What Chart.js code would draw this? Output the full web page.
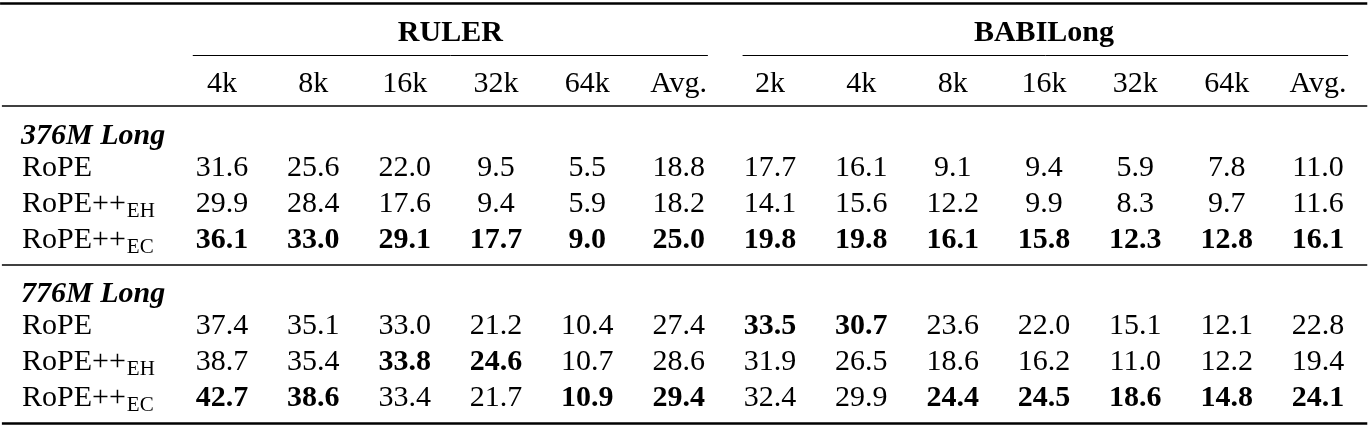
<!DOCTYPE html>
<html>
<head>
<meta charset="utf-8">
<script src="https://cdn.jsdelivr.net/npm/chart.js@4/dist/chart.umd.min.js"></script>
<style>
  html, body { margin: 0; padding: 0; background: #fff; }
  #table-chart { display: block; }
</style>
</head>
<body>
<canvas id="table-chart" width="1370" height="429"></canvas>
<script>
'use strict';

// column groups and headers
var groups = ['RULER', 'BABILong'];
var rulerCols = ['4k', '8k', '16k', '32k', '64k', 'Avg.'];
var babiCols = ['2k', '4k', '8k', '16k', '32k', '64k', 'Avg.'];

// row groups and methods
var sections = ['376M Long', '776M Long'];
var methods = ['RoPE', 'RoPE++', 'RoPE++'];
var methodSubs = ['', 'EH', 'EC'];

// scores: RULER (6 cols) then BABILong (7 cols)
var rope376 = [31.6, 25.6, 22.0, 9.5, 5.5, 18.8, 17.7, 16.1, 9.1, 9.4, 5.9, 7.8, 11.0];
var ropeEH376 = [29.9, 28.4, 17.6, 9.4, 5.9, 18.2, 14.1, 15.6, 12.2, 9.9, 8.3, 9.7, 11.6];
var ropeEC376 = [36.1, 33.0, 29.1, 17.7, 9.0, 25.0, 19.8, 19.8, 16.1, 15.8, 12.3, 12.8, 16.1];
var rope776 = [37.4, 35.1, 33.0, 21.2, 10.4, 27.4, 33.5, 30.7, 23.6, 22.0, 15.1, 12.1, 22.8];
var ropeEH776 = [38.7, 35.4, 33.8, 24.6, 10.7, 28.6, 31.9, 26.5, 18.6, 16.2, 11.0, 12.2, 19.4];
var ropeEC776 = [42.7, 38.6, 33.4, 21.7, 10.9, 29.4, 32.4, 29.9, 24.4, 24.5, 18.6, 14.8, 24.1];

var sectionRows = [[rope376, ropeEH376, ropeEC376], [rope776, ropeEH776, ropeEC776]];

// layout (x in column units, y in row units of 36px)
var COL_W = 91.33;
var X_MIN = -222 / COL_W;
var X_MAX = (1370 - 222) / COL_W;
var Y_MAX = 429 / 36;
var LABEL_X = -2.19;
var RULE_L = -2.41, RULE_R = 12.54;
var TOP_RULE = 0.083, GROUP_Y = 0.861, CMID_Y = 1.528, HEAD_Y = 2.25, MID_RULE = 2.944;
var FONT = '"Liberation Serif", "Times New Roman", serif';

var allCols = rulerCols.concat(babiCols);

// where each section sits
var layout = [];
var ruleY = MID_RULE;
sections.forEach(function (name, s) {
  var rows = [];
  for (var r = 0; r < methods.length; r++) rows.push(ruleY + 1.64 + r);
  layout.push({ rule: ruleY, header: ruleY + 0.76, rows: rows });
  ruleY = rows[rows.length - 1] + 0.765;
});
var BOTTOM_RULE = ruleY;

// one dataset per table row, each point is a cell
var datasets = [];
sectionRows.forEach(function (rows, s) {
  // best per column in this section gets bold
  var best = allCols.map(function (c, i) {
    return Math.max.apply(null, rows.map(function (row) { return row[i]; }));
  });
  rows.forEach(function (row, r) {
    datasets.push({
      label: sections[s] + ' ' + methods[r] + methodSubs[r],
      data: row.map(function (v, i) {
        return { x: i, y: layout[s].rows[r], v: v, bold: v === best[i] };
      }),
      pointRadius: 0,
      method: r,
      section: s
    });
  });
});

var tablePlugin = {
  id: 'tableText',
  afterDatasetsDraw: function (chart) {
    var ctx = chart.ctx;
    var xs = chart.scales.x, ys = chart.scales.y;
    var px = function (v) { return xs.getPixelForValue(v); };
    var py = function (v) { return ys.getPixelForValue(v); };

    ctx.save();
    ctx.fillStyle = '#000';
    ctx.strokeStyle = '#000';

    function rule(y, x0, x1, w) {
      var yy = Math.round(py(y)) + (Math.round(w) % 2 ? 0.5 : 0);
      ctx.lineWidth = w;
      ctx.beginPath();
      ctx.moveTo(px(x0), yy);
      ctx.lineTo(px(x1), yy);
      ctx.stroke();
    }

    function text(str, x, y, bold, italic, align) {
      ctx.font = (italic ? 'italic ' : '') + (bold ? 'bold ' : '') + '30px ' + FONT;
      ctx.textAlign = align || 'center';
      ctx.textBaseline = 'alphabetic';
      ctx.fillText(str, x, y + 10.5);
    }

    // rules
    rule(TOP_RULE, RULE_L - 0.02, RULE_R, 2.6);
    rule(CMID_Y, -0.32, rulerCols.length - 1 + 0.32, 1);
    rule(CMID_Y, rulerCols.length - 0.3, allCols.length - 1 + 0.33, 1);
    layout.forEach(function (sec) { rule(sec.rule, RULE_L, RULE_R, 1.6); });
    rule(BOTTOM_RULE, RULE_L, RULE_R, 2.6);

    // group headers
    text(groups[0], px((rulerCols.length - 1) / 2), py(GROUP_Y), true);
    text(groups[1], px(rulerCols.length + (babiCols.length - 1) / 2), py(GROUP_Y), true);

    // column headers
    allCols.forEach(function (c, i) { text(c, px(i), py(HEAD_Y)); });

    // section headers
    layout.forEach(function (sec, s) {
      text(sections[s], px(LABEL_X) - 1, py(sec.header), true, true, 'left');
    });

    // rows
    chart.data.datasets.forEach(function (ds, d) {
      var meta = chart.getDatasetMeta(d);
      var y = meta.data[0].y;
      var lx = px(LABEL_X);
      text(methods[ds.method], lx, y, false, false, 'left');
      if (methodSubs[ds.method]) {
        var w = ctx.measureText(methods[ds.method]).width;
        ctx.font = '21px ' + FONT;
        ctx.textAlign = 'left';
        ctx.fillText(methodSubs[ds.method], lx + w + 1, y + 10.5 + 5);
      }
      meta.data.forEach(function (pt, i) {
        var cell = ds.data[i];
        text(cell.v.toFixed(1), pt.x, pt.y, cell.bold);
      });
    });

    ctx.restore();
  }
};

var chart = new Chart(document.getElementById('table-chart'), {
  type: 'scatter',
  data: { datasets: datasets },
  options: {
    responsive: false,
    animation: false,
    layout: { padding: 0 },
    plugins: { legend: { display: false }, tooltip: { enabled: false } },
    scales: {
      x: { type: 'linear', min: X_MIN, max: X_MAX, display: false },
      y: { type: 'linear', min: 0, max: Y_MAX, reverse: true, display: false }
    }
  },
  plugins: [tablePlugin]
});
</script>
</body>
</html>
